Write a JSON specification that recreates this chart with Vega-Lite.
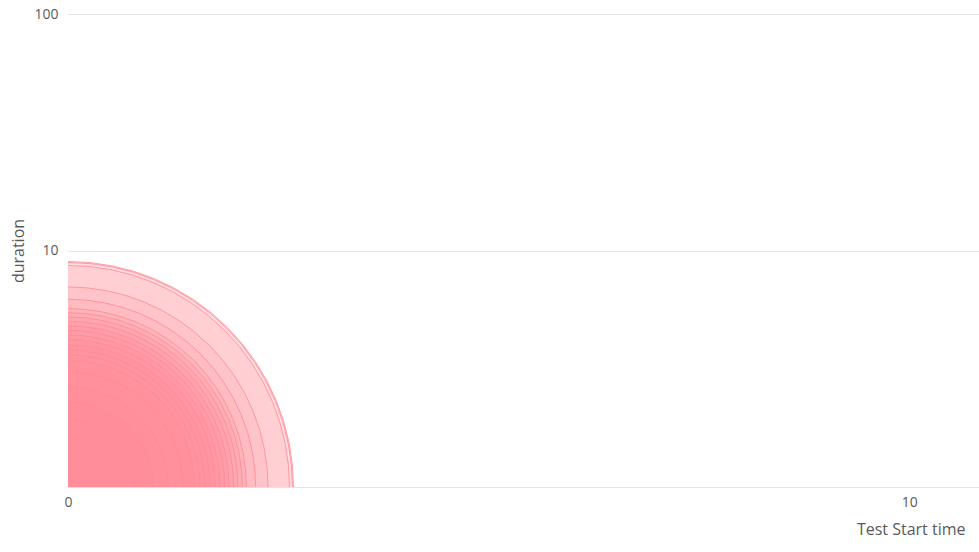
{
  "$schema": "https://vega.github.io/schema/vega-lite/v6.json",
  "autosize": "none",
  "width": 911,
  "height": 473,
  "padding": {"left": 68, "top": 14, "right": 0, "bottom": 65},
  "background": "#ffffff",
  "config": {
    "view": {"stroke": null},
    "font": "Open Sans",
    "axis": {
      "labelFont": "Open Sans",
      "titleFont": "Open Sans",
      "labelColor": "#5a5a5a",
      "titleColor": "#5a5a5a",
      "labelFontSize": 14,
      "titleFontSize": 16,
      "titleFontWeight": "normal",
      "gridColor": "#e3e3e3",
      "domainColor": "#e3e3e3",
      "ticks": false
    }
  },
  "data": {
    "values": [
      {"start": 0, "duration": 1, "runs": 100},
      {"start": 0, "duration": 1, "runs": 99.1},
      {"start": 0, "duration": 1, "runs": 96.5},
      {"start": 0, "duration": 1, "runs": 78.7},
      {"start": 0, "duration": 1, "runs": 69.3},
      {"start": 0, "duration": 1, "runs": 62.6},
      {"start": 0, "duration": 1, "runs": 59.8},
      {"start": 0, "duration": 1, "runs": 56.8},
      {"start": 0, "duration": 1, "runs": 54.0},
      {"start": 0, "duration": 1, "runs": 51.0},
      {"start": 0, "duration": 1, "runs": 48.3},
      {"start": 0, "duration": 1, "runs": 45.4},
      {"start": 0, "duration": 1, "runs": 42.7},
      {"start": 0, "duration": 1, "runs": 39.7},
      {"start": 0, "duration": 1, "runs": 36.9},
      {"start": 0, "duration": 1, "runs": 34.3},
      {"start": 0, "duration": 1, "runs": 31.5},
      {"start": 0, "duration": 1, "runs": 26.0},
      {"start": 0, "duration": 1, "runs": 19.7},
      {"start": 0, "duration": 1, "runs": 14.2},
      {"start": 0, "duration": 1, "runs": 8.8},
      {"start": 0, "duration": 1, "runs": 4.9}
    ]
  },
  "mark": {
    "type": "circle",
    "clip": true,
    "color": "#ff9199",
    "fillOpacity": 0.17,
    "stroke": "#ff8a94",
    "strokeWidth": 1,
    "strokeOpacity": 0.8
  },
  "encoding": {
    "x": {
      "field": "start",
      "type": "quantitative",
      "title": "Test Start time",
      "scale": {"domain": [0, 10.83], "nice": false},
      "axis": {
        "values": [0, 10],
        "grid": false,
        "labelFlush": false,
        "labelPadding": 8,
        "titleAnchor": "end",
        "titleAlign": "right",
        "titleX": 897,
        "titleY": 47,
        "titleBaseline": "alphabetic"
      }
    },
    "y": {
      "field": "duration",
      "type": "quantitative",
      "title": "duration",
      "scale": {"type": "log", "domain": [1, 100], "nice": false},
      "axis": {
        "values": [10, 100],
        "domain": false,
        "labelPadding": 10,
        "titlePadding": 7
      }
    },
    "size": {
      "field": "runs",
      "type": "quantitative",
      "scale": {"domain": [0, 100], "range": [0, 203401], "zero": true},
      "legend": null
    },
    "order": {"field": "runs", "sort": "descending"}
  }
}
